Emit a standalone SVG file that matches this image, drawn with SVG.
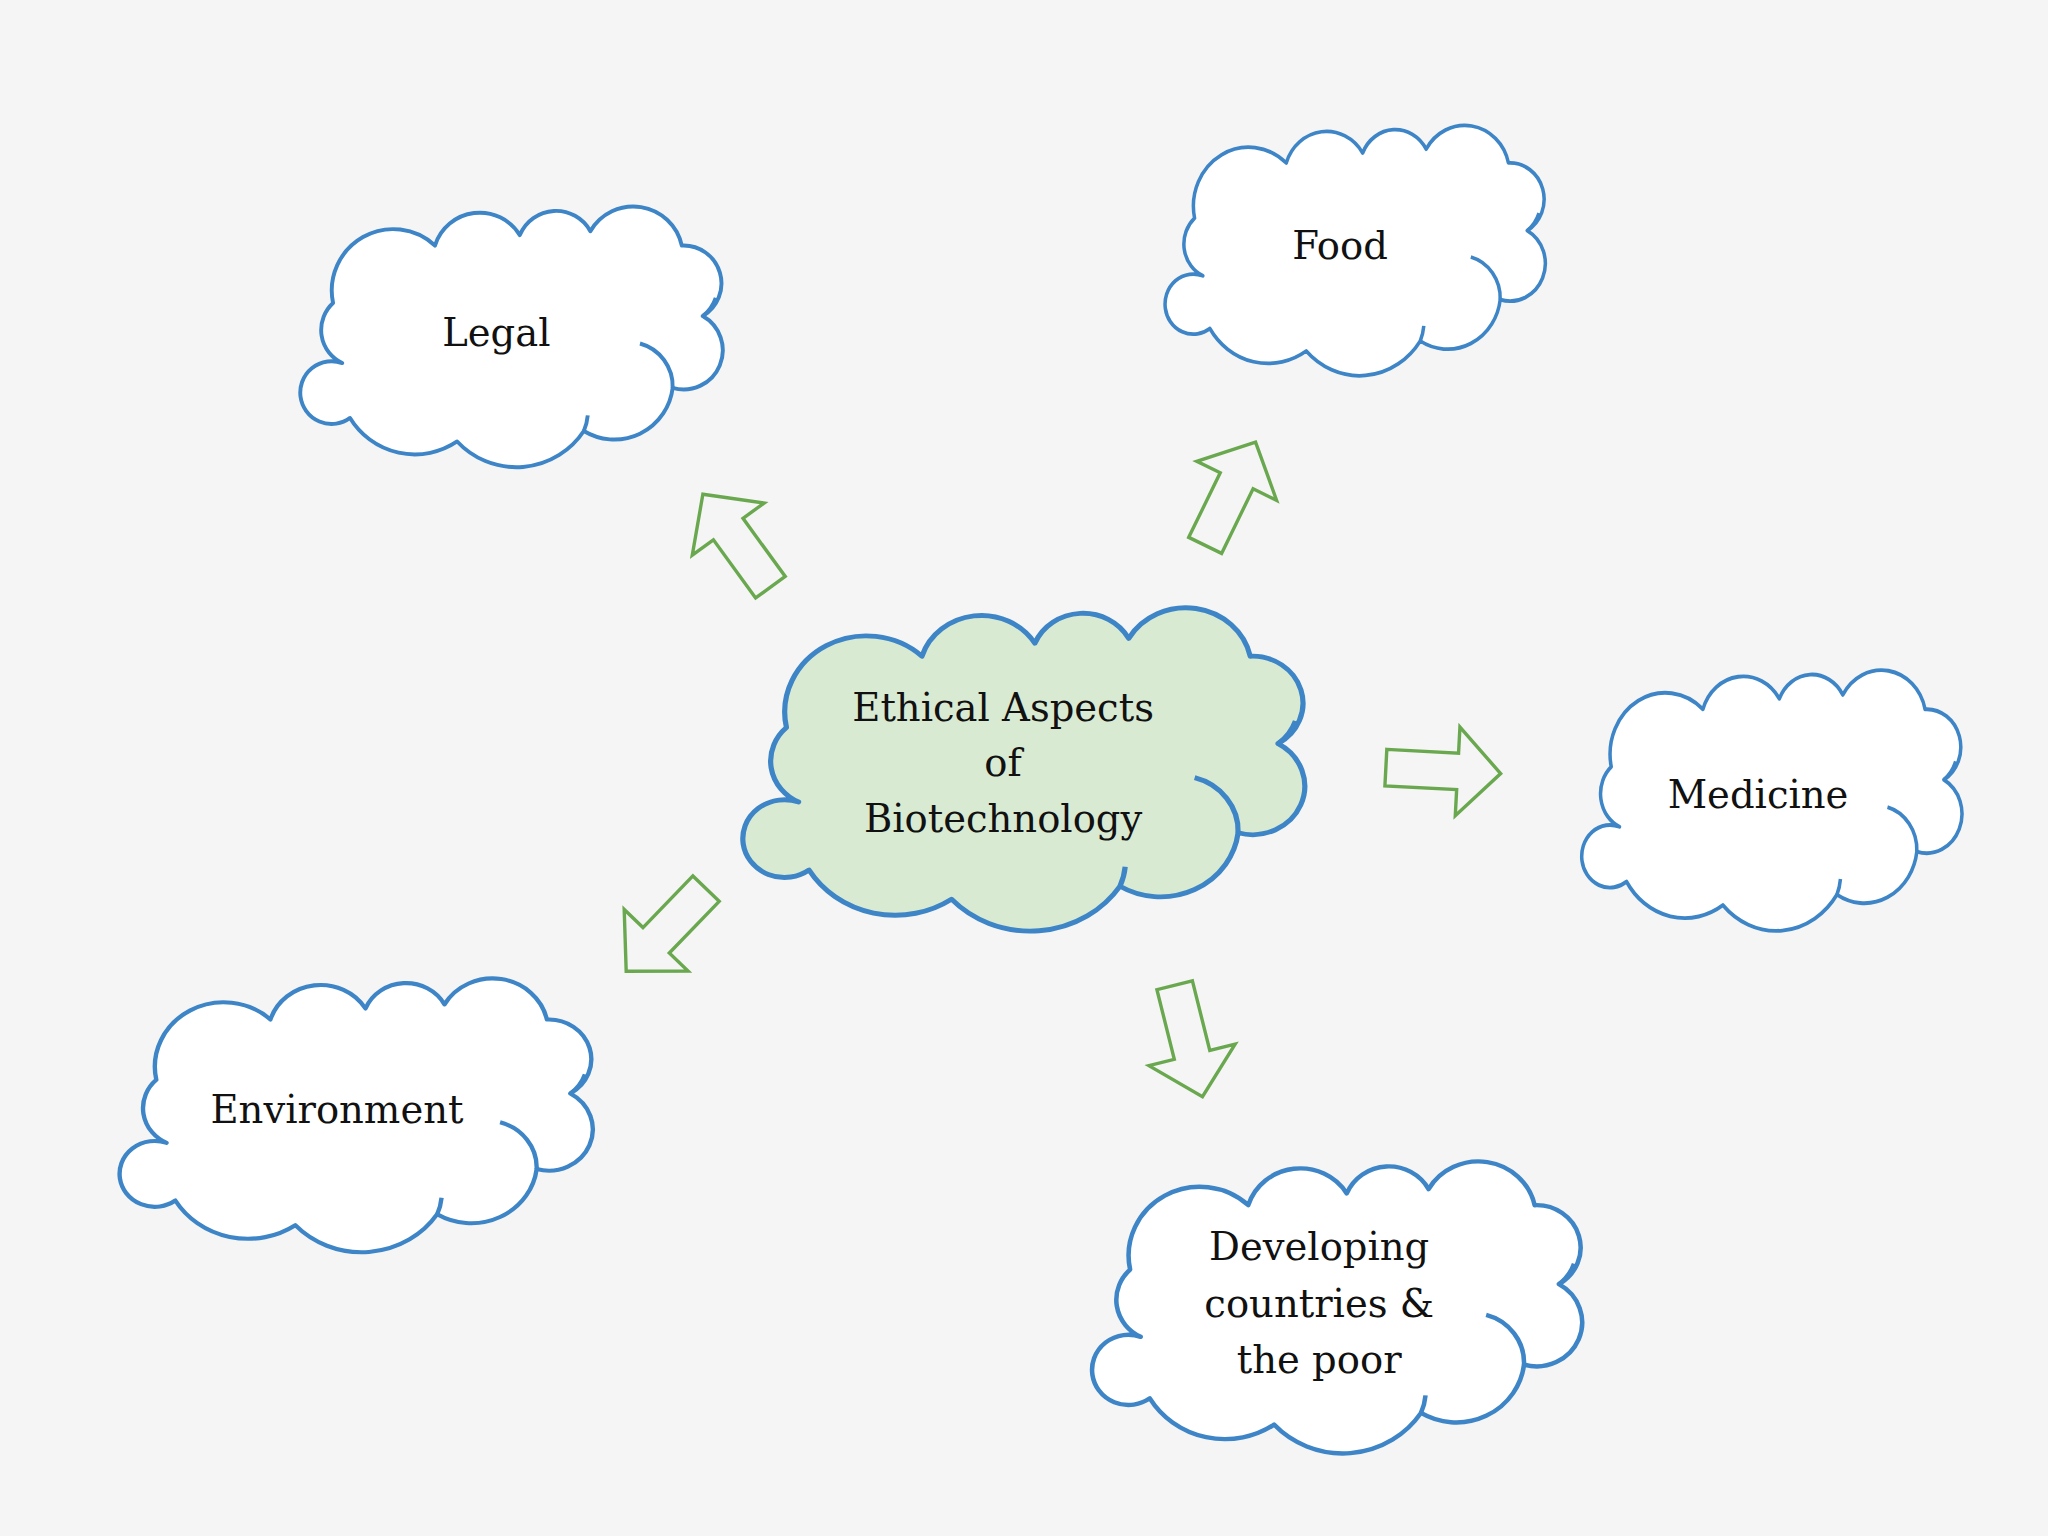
<svg xmlns="http://www.w3.org/2000/svg" xmlns:xlink="http://www.w3.org/1999/xlink" width="2048" height="1536" viewBox="0 0 2048 1536">
<style>
.cl{fill:#ffffff;stroke:#3d85c6;stroke-width:3;vector-effect:non-scaling-stroke;stroke-linejoin:round}
.cc{fill:#d9ead3}
.curl{fill:none;stroke:#3d85c6;stroke-width:3;vector-effect:non-scaling-stroke}
.ar{fill:none;stroke:#6aa84f;stroke-width:2.6;stroke-linejoin:miter}
text{font-family:"DejaVu Serif","Liberation Serif",serif;font-size:29.5px;fill:#111;text-anchor:middle}
</style>
<defs>
<path id="cloud" d="M255,232 A47,47 0 0 1 333,188 A36,36 0 0 1 398,180 A30,30 0 0 1 452,177 A38,38 0 0 1 522,188 A29,29 0 0 1 538,242 A30,30 0 0 1 515,297 A45,45 0 0 1 447,330 A62,62 0 0 1 350,338 A58,58 0 0 1 268,320 A24,24 0 1 1 262,278 A28,28 0 0 1 255,232 Z"/>
<g id="curls">
<path d="M490,263 A34,34 0 0 1 515,297"/>
<path d="M538,242 A30,30 0 0 0 548,228"/>
<path d="M447,330 A40,40 0 0 0 450,318"/>
</g>
<polygon id="arrow" points="-44,-14 11,-14 11,-34 44,0 11,34 11,14 -44,14"/>
</defs>
<rect width="2048" height="1536" fill="#f5f5f5"/>
<g transform="scale(1.30612)">
<g id="legal">
<use xlink:href="#cloud" class="cl"/><use xlink:href="#curls" class="curl"/>
<text x="380" y="265">Legal</text>
</g>
<g id="food">
<g transform="translate(1037,191) scale(0.9,0.96) translate(-391,-257)"><use xlink:href="#cloud" class="cl"/><use xlink:href="#curls" class="curl"/></g>
<text x="1026" y="198">Food</text>
</g>
<g id="medicine">
<g transform="translate(1356,612) scale(0.9,1) translate(-391,-257)"><use xlink:href="#cloud" class="cl"/><use xlink:href="#curls" class="curl"/></g>
<text x="1346" y="619">Medicine</text>
</g>
<g id="environment">
<g transform="translate(272,853) scale(1.12,1.05) translate(-391,-257)"><use xlink:href="#cloud" class="cl"/><use xlink:href="#curls" class="curl"/></g>
<text x="258" y="860">Environment</text>
</g>
<g id="developing">
<g transform="translate(1023,1000) scale(1.16,1.12) translate(-391,-257)"><use xlink:href="#cloud" class="cl"/><use xlink:href="#curls" class="curl"/></g>
<text x="1010" y="965">Developing</text>
<text x="1010" y="1008">countries &amp;</text>
<text x="1010" y="1051">the poor</text>
</g>
<g id="center">
<g transform="translate(783,588) scale(1.33,1.24) translate(-391,-257)"><use xlink:href="#cloud" class="cl cc"/><use xlink:href="#curls" class="curl"/></g>
<text x="768" y="552">Ethical Aspects</text>
<text x="768" y="594">of</text>
<text x="768" y="637">Biotechnology</text>
</g>
<g id="connectors">
<use xlink:href="#arrow" class="ar" transform="translate(1105,590) rotate(3)"/>
<use xlink:href="#arrow" class="ar" transform="translate(942,378) rotate(-64)"/>
<use xlink:href="#arrow" class="ar" transform="translate(564,414) rotate(-126)"/>
<use xlink:href="#arrow" class="ar" transform="translate(510,712) rotate(134)"/>
<use xlink:href="#arrow" class="ar" transform="translate(910,797) rotate(76)"/>
</g>
</g>
</svg>
